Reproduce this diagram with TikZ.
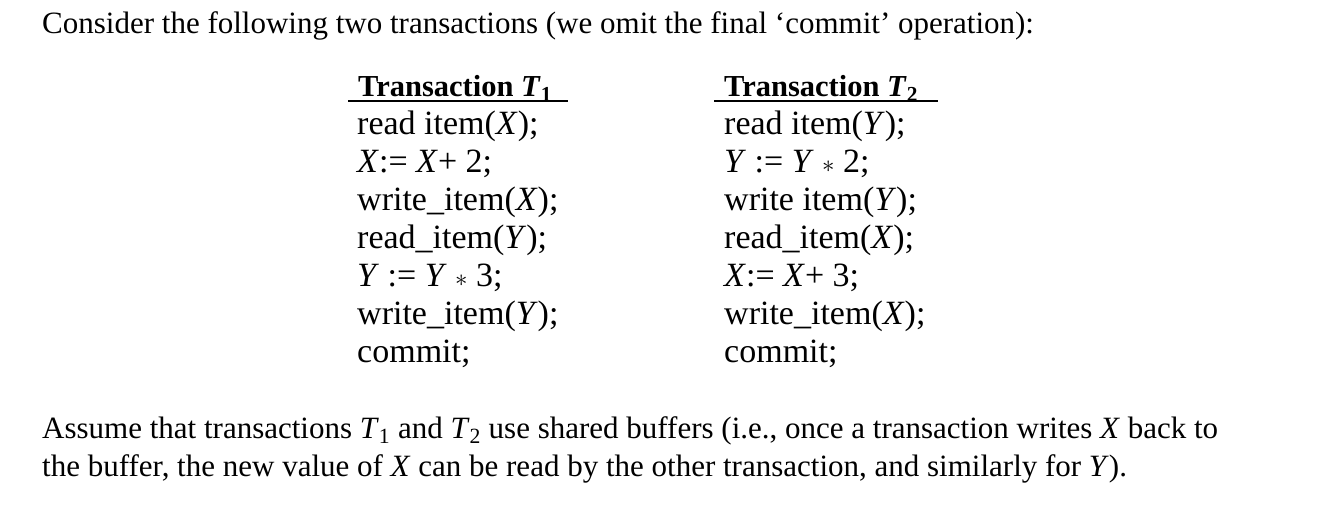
\documentclass[tikz,border=0pt]{standalone}
\usepackage{fontspec}
\setmainfont{Liberation Serif}
\begin{document}
\begin{tikzpicture}[x=1pt,y=-1pt,
  txt/.style={anchor=base west,inner sep=0pt,font=\fontsize{31}{34}\selectfont},
  code/.style={anchor=base west,inner sep=0pt,font=\fontsize{34}{38}\selectfont}]
\useasboundingbox (0,0) rectangle (1326,504);
\node[txt] (h) at (42,33) {Consider the following two transactions (we omit the final `commit' operation):};
\node[code,font=\fontsize{30.5}{34}\selectfont\bfseries] (t1) at (358,96) {Transaction \textit{T}\textsubscript{1}};
\node[code,font=\fontsize{30.5}{34}\selectfont\bfseries] (t2) at (724,96) {Transaction \textit{T}\textsubscript{2}};
\draw[line width=1.4] (348,101) -- (568,101);
\draw[line width=1.4] (714,101) -- (938,101);
\foreach \t [count=\i] in {read item(\textit{X});, \textit{X}:= \textit{X}+ 2;, write\_item(\textit{X});, read\_item(\textit{Y});, \textit{Y} := \textit{Y} $*$ 3;, write\_item(\textit{Y});, commit;}
  \node[code] (a\i) at (357,96+38*\i) {\t};
\foreach \t [count=\i] in {read item(\textit{Y});, \textit{Y} := \textit{Y} $*$ 2;, write item(\textit{Y});, read\_item(\textit{X});, \textit{X}:= \textit{X}+ 3;, write\_item(\textit{X});, commit;}
  \node[code] (b\i) at (724,96+38*\i) {\t};
\node[txt] (p1) at (42,438) {Assume that transactions \textit{T}\textsubscript{1} and \textit{T}\textsubscript{2} use shared buffers (i.e., once a transaction writes \textit{X} back to};
\node[txt] (p2) at (42,476) {the buffer, the new value of \textit{X} can be read by the other transaction, and similarly for \textit{Y}).};
\end{tikzpicture}
\end{document}
